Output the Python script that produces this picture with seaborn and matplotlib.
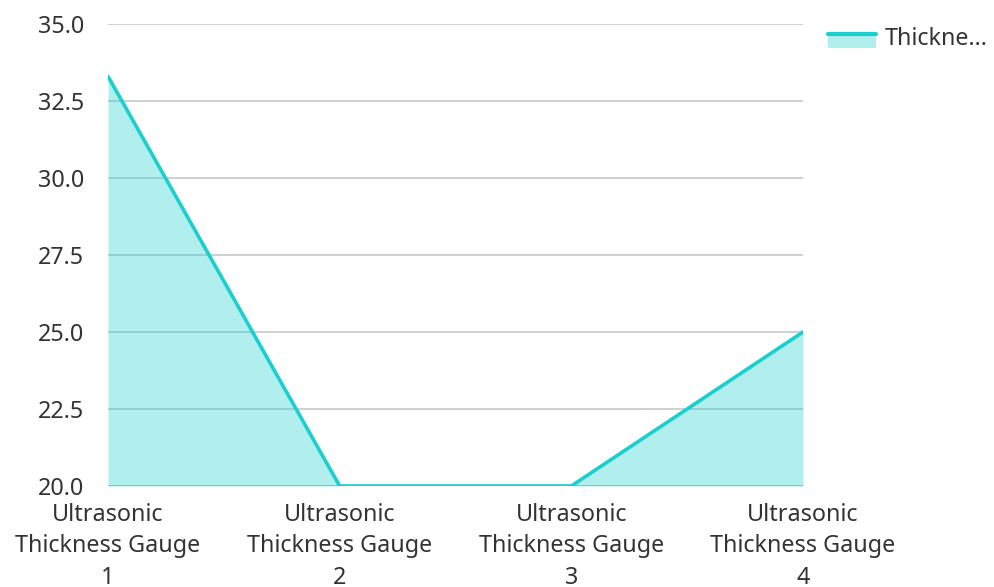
import matplotlib
matplotlib.use("Agg")
import matplotlib.pyplot as plt
from matplotlib.patches import Rectangle
from matplotlib.lines import Line2D
from matplotlib.legend_handler import HandlerBase
import seaborn as sns
import pandas as pd

categories = ["Ultrasonic\nThickness Gauge\n1", "Ultrasonic\nThickness Gauge\n2",
              "Ultrasonic\nThickness Gauge\n3", "Ultrasonic\nThickness Gauge\n4"]
thickness = [33.3, 20.0, 20.0, 25.0]
y_ticks = [20.0, 22.5, 25.0, 27.5, 30.0, 32.5, 35.0]
series_name = "Thickne..."

line_color = "#1ccfcf"
fill_alpha = 0.34
fill_color = "#b1eeee"
text_color = "#333333"
font_size = 16.8

sns.set_theme(style="white")
plt.rcParams["font.family"] = ["Noto Sans", "DejaVu Sans"]

df = pd.DataFrame({"x": range(len(categories)), "y": thickness})

fig = plt.figure(figsize=(9.95, 5.87), dpi=100)
ax = fig.add_axes([108 / 995, 1 - 486 / 587, (803 - 108) / 995, (486 - 24) / 587])

# gridlines sit beneath the translucent area
for v in y_ticks[1:]:
    ax.axhline(v, color="#c8c8c8", linewidth=1.2, zorder=1)
ax.axhline(20.0, color="#a6a6a6", linewidth=1.8, zorder=1)

ax.fill_between(df["x"], df["y"], 20.0, color=line_color, alpha=fill_alpha,
                linewidth=0, zorder=2)
sns.lineplot(data=df, x="x", y="y", ax=ax, color=line_color, linewidth=2.6, zorder=3)

ax.set_xlim(0, len(categories) - 1)
ax.set_ylim(20.0, 35.0)
ax.set_yticks(y_ticks)
ax.set_yticklabels([f"{v:.1f}" for v in y_ticks])
ax.set_xticks(range(len(categories)))
ax.set_xticklabels(categories, linespacing=1.42)
ax.set_xlabel("")
ax.set_ylabel("")

for s in ax.spines.values():
    s.set_visible(False)
ax.tick_params(axis="both", length=0, labelsize=font_size, colors=text_color)
ax.tick_params(axis="y", pad=17)
ax.tick_params(axis="x", pad=12)


class AreaHandler(HandlerBase):
    """Legend key: filled band with the series line along its top edge."""

    def create_artists(self, legend, orig_handle, xdescent, ydescent,
                       width, height, fontsize, trans):
        drop = 3.0
        y0 = -ydescent - drop
        top = y0 + height
        rect = Rectangle((-xdescent, y0), width, height,
                         facecolor=fill_color, edgecolor="none", transform=trans)
        ln = Line2D([-xdescent, -xdescent + width], [top, top],
                    color=line_color, linewidth=3, transform=trans)
        return [rect, ln]


handle = Rectangle((0, 0), 1, 1)
fig.legend([handle], [series_name], handler_map={Rectangle: AreaHandler()},
           loc="upper left", bbox_to_anchor=(828 / 995, 1 - 27 / 587),
           frameon=False, fontsize=font_size, handlelength=2.05, handleheight=0.6,
           handletextpad=0.4, borderpad=0, borderaxespad=0, labelcolor=text_color)

fig.savefig("out.png", dpi=100)
